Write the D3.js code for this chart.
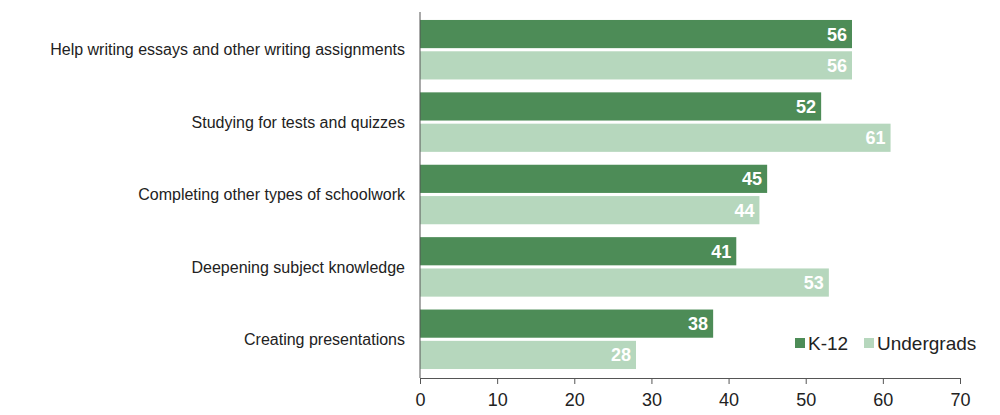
<!DOCTYPE html><html><head><meta charset="utf-8"><script src="https://cdn.jsdelivr.net/npm/d3@7"></script>
<style>body{margin:0;background:#fff}text{font-family:Arial,"Liberation Sans",sans-serif}</style></head><body><svg width="1000" height="415"></svg><script>
const categories=["Help writing essays and other writing assignments","Studying for tests and quizzes","Completing other types of schoolwork","Deepening subject knowledge","Creating presentations"];
const k12=[56,52,45,41,38];
const undergrads=[56,61,44,53,28];
const ticks=[0,10,20,30,40,50,60,70];
const series=[{name:"K-12",vals:k12,color:"#4d8c57"},{name:"Undergrads",vals:undergrads,color:"#b6d7bd"}];
const svg=d3.select("svg");
const x=d3.scaleLinear().domain([0,70]).range([420,960]);
const y=d3.scaleBand().domain(categories).range([12,377]).paddingInner(0.178).paddingOuter(0.11);
const sub=d3.scaleBand().domain([0,1]).range([0,y.bandwidth()]).paddingInner(0.1);
series.forEach((s,si)=>{
  const g=svg.append("g");
  categories.forEach((c,i)=>{
    const yy=y(c)+sub(si);
    g.append("rect").attr("x",x(0)).attr("y",yy).attr("width",x(s.vals[i])-x(0)).attr("height",sub.bandwidth()).attr("fill",s.color);
    g.append("text").attr("x",x(s.vals[i])-5).attr("y",yy+sub.bandwidth()/2).attr("dy","0.36em").attr("text-anchor","end").attr("fill","#fff").attr("font-weight","bold").attr("font-size",18).text(s.vals[i]);
  });
});
categories.forEach(c=>svg.append("text").attr("x",405).attr("y",y(c)+y.bandwidth()/2).attr("dy","0.36em").attr("text-anchor","end").attr("font-size",16).attr("fill","#222").text(c));
svg.append("line").attr("x1",420).attr("x2",420).attr("y1",12).attr("y2",378).attr("stroke","#555");
const ax=svg.append("g").attr("transform","translate(0,378)").call(d3.axisBottom(x).tickValues(ticks).tickSize(6).tickSizeOuter(0));
ax.select(".domain").attr("stroke","#555");ax.selectAll("line").attr("stroke","#555");
ax.selectAll("text").attr("font-size",18).attr("fill","#222").attr("dy","1.05em").style("font-family","Arial,'Liberation Sans',sans-serif");
const leg=[{n:"K-12",c:series[0].color,x:795},{n:"Undergrads",c:series[1].color,x:864}];
leg.forEach(l=>{svg.append("rect").attr("x",l.x).attr("y",338).attr("width",10).attr("height",10).attr("fill",l.c);
svg.append("text").attr("x",l.x+13).attr("y",343).attr("dy","0.36em").attr("font-size",19).attr("fill","#222").text(l.n);});
</script></body></html>
